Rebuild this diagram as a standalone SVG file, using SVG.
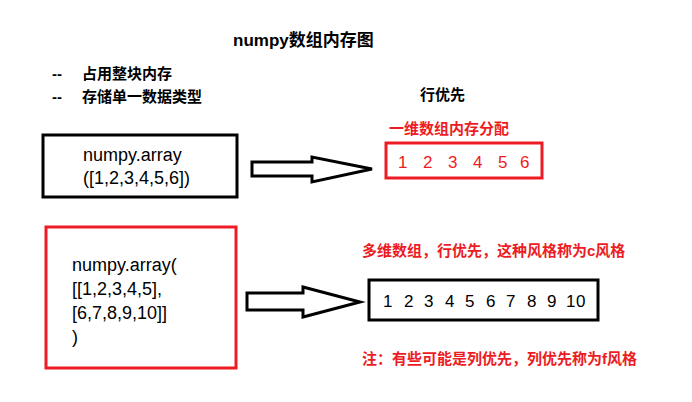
<svg xmlns="http://www.w3.org/2000/svg" width="692" height="402" viewBox="0 0 692 402">
<style>
text{font-family:"Liberation Sans","Noto Sans CJK SC",sans-serif;font-size:18px}
.b{font-weight:bold;font-size:15px}
.r{fill:#ed1c24}
.n{font-size:17px}
.k{fill:none;stroke:#000;stroke-width:3}
.rb{fill:none;stroke:#ed1c24;stroke-width:3}
.ar{fill:#fff;stroke:#000;stroke-width:3}
</style>
<rect width="692" height="402" fill="#fff"/>
<text x="233" y="46" class="b" style="font-size:17px">numpy数组内存图</text>
<text x="52" y="79" class="b">-- </text><text x="82" y="79" class="b">占用整块内存</text>
<text x="52" y="102" class="b">-- </text><text x="82" y="102" class="b">存储单一数据类型</text>
<text x="420" y="100" class="b">行优先</text>
<g id="n1"><rect x="43" y="135" width="194" height="62" class="k"/>
<text x="83" y="161">numpy.array</text><text x="83" y="184">([1,2,3,4,5,6])</text></g>
<g id="n2"><text x="389" y="134" class="b r">一维数组内存分配</text>
<rect x="386" y="143" width="156" height="35" class="rb"/>
<text x="398 423 448 473 498 520" y="168" class="r n">123456</text></g>
<g id="n3"><rect x="46" y="227" width="190" height="141" class="rb"/>
<text x="72" y="271">numpy.array(</text><text x="72" y="295">[[1,2,3,4,5],</text><text x="72" y="319">[6,7,8,9,10]]</text><text x="72" y="343">)</text></g>
<g id="n4"><text x="362" y="256" class="b r">多维数组，行优先，这种风格称为c风格</text>
<rect x="369" y="280" width="229" height="40" class="k"/>
<text x="383 404 424 445 465 486 506 527 547 566 576" y="307" class="n">12345678910</text>
<text x="362" y="364" class="b r">注：有些可能是列优先，列优先称为f风格</text></g>
<g id="connectors">
<path d="M252 162H312V157L372 169L312 182V176H252Z" class="ar"/>
<path d="M247 293H303V287L360 302L303 317V310H247Z" class="ar"/>
</g>
</svg>
